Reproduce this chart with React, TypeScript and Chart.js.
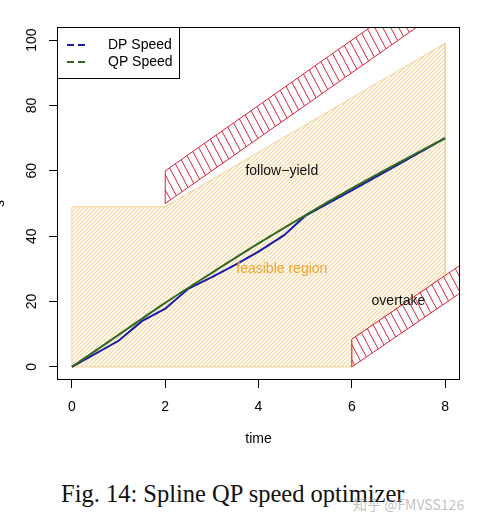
import React, { useEffect, useRef } from 'react';
import { Chart, registerables } from 'chart.js';

Chart.register(...registerables);

// ---- data ----
const qpTime = [0, 1, 2, 3, 4, 5, 6, 7, 8];
const qpSpeed = [0, 9.8, 19.6, 28.8, 37.8, 46.4, 54.6, 62.4, 70];

const dpTime = [0, 1, 1.5, 2, 2.5, 3, 3.5, 4, 4.55, 5, 6, 7, 8];
const dpSpeed = [0, 8, 14, 17.8, 24, 27.5, 31.2, 35.3, 40.3, 46.2, 54, 62, 70];

// polygons (closed)
const feasibleT = [0, 0, 2, 8, 8, 6, 6, 0];
const feasibleS = [0, 49, 49, 99, 28, 8.5, 0, 0];

const followT = [2, 2, 9, 9, 2];
const followS = [50, 60, 130, 120, 50];

const overtakeT = [6, 6, 9, 9, 6];
const overtakeS = [0, 8.5, 37.7, 29.2, 0];

const xTicks = [0, 2, 4, 6, 8];
const yTicks = [0, 20, 40, 60, 80, 100];

const legendLabels = ['DP Speed', 'QP Speed'];
const legendColors = ['#1a1aa8', '#2f6a1e'];

const annotationTexts = ['follow\u2212yield', 'feasible region', 'overtake'];
const annotationT = [4.5, 4.5, 7];
const annotationS = [60, 30, 20];
const annotationColors = ['#111111', '#f0a530', '#111111'];

const pts = (xs: number[], ys: number[]) => xs.map((x, i) => ({ x, y: ys[i] }));

const FONT = "'Liberation Sans', Arial, sans-serif";

// hatch tile: lines through (0,0)-(w,h) ("back" = "\") or (0,h)-(w,0) ("fwd" = "/")
function makeHatch(ctx: CanvasRenderingContext2D, w: number, h: number, color: string, width: number, dir: 'fwd' | 'back') {
  const c = document.createElement('canvas');
  c.width = w;
  c.height = h;
  const g = c.getContext('2d')!;
  g.strokeStyle = color;
  g.lineWidth = width;
  g.beginPath();
  const ex = w / 4;
  const ey = h / 4;
  for (const o of [-w, 0, w]) {
    if (dir === 'fwd') {
      g.moveTo(o - ex, h + ey);
      g.lineTo(o + w + ex, -ey);
    } else {
      g.moveTo(o - ex, -ey);
      g.lineTo(o + w + ex, h + ey);
    }
  }
  g.stroke();
  return ctx.createPattern(c, 'repeat');
}

const framePlugin = {
  id: 'frame',
  afterDraw(chart: any) {
    const { ctx, chartArea: a } = chart;
    ctx.save();
    ctx.strokeStyle = '#000';
    ctx.lineWidth = 1;
    ctx.strokeRect(a.left + 0.5, a.top + 0.5, a.right - a.left - 1, a.bottom - a.top - 1);
    ctx.restore();
  },
};

const annotationPlugin = {
  id: 'annot',
  afterDatasetsDraw(chart: any) {
    const { ctx } = chart;
    const xs = chart.scales.x;
    const ys = chart.scales.y;
    ctx.save();
    ctx.font = `14px ${FONT}`;
    ctx.textAlign = 'center';
    ctx.textBaseline = 'middle';
    annotationTexts.forEach((t, i) => {
      ctx.fillStyle = annotationColors[i];
      ctx.fillText(t, xs.getPixelForValue(annotationT[i]), ys.getPixelForValue(annotationS[i]));
    });
    ctx.restore();
  },
};

const legendPlugin = {
  id: 'rlegend',
  afterDraw(chart: any) {
    const { ctx, chartArea: a } = chart;
    ctx.save();
    const left = a.left;
    const top = a.top;
    ctx.fillStyle = '#fff';
    ctx.fillRect(left + 0.5, top + 0.5, 122, 51);
    ctx.strokeStyle = '#000';
    ctx.lineWidth = 1;
    ctx.strokeRect(left + 0.5, top + 0.5, 122, 51);
    ctx.font = `14px ${FONT}`;
    ctx.textAlign = 'left';
    ctx.textBaseline = 'middle';
    legendLabels.forEach((lab, i) => {
      const y = top + 18 + i * 17;
      ctx.strokeStyle = legendColors[i];
      ctx.lineWidth = 2;
      ctx.setLineDash([7, 4]);
      ctx.beginPath();
      ctx.moveTo(left + 10, y);
      ctx.lineTo(left + 28, y);
      ctx.stroke();
      ctx.setLineDash([]);
      ctx.fillStyle = '#000';
      ctx.fillText(lab, left + 51, y);
    });
    ctx.restore();
  },
};

export default function App() {
  const ref = useRef<HTMLCanvasElement>(null);

  useEffect(() => {
    const canvas = ref.current!;
    const ctx = canvas.getContext('2d')!;
    Chart.defaults.font.family = FONT;
    const orange = makeHatch(ctx, 4, 4, '#f4d49c', 1.2, 'fwd');
    const red = makeHatch(ctx, 8, 15, '#d8253a', 1, 'back');

    const chart = new Chart(canvas, {
      type: 'line',
      data: {
        datasets: [
          {
            label: 'QP Speed',
            data: pts(qpTime, qpSpeed),
            borderColor: legendColors[1],
            borderWidth: 2,
            pointRadius: 0,
            fill: false,
            cubicInterpolationMode: 'monotone',
          },
          {
            label: 'DP Speed',
            data: pts(dpTime, dpSpeed),
            borderColor: legendColors[0],
            borderWidth: 2,
            pointRadius: 0,
            fill: false,
            tension: 0,
          },
          {
            label: 'follow-yield',
            data: pts(followT, followS),
            borderColor: '#d8253a',
            borderWidth: 1,
            backgroundColor: red as any,
            pointRadius: 0,
            fill: 'shape',
            tension: 0,
            clip: 0,
            borderJoinStyle: 'miter',
          },
          {
            label: 'overtake',
            data: pts(overtakeT, overtakeS),
            borderColor: '#d8253a',
            borderWidth: 1,
            backgroundColor: red as any,
            pointRadius: 0,
            fill: 'shape',
            tension: 0,
            clip: 0,
            borderJoinStyle: 'miter',
          },
          {
            label: 'feasible region',
            data: pts(feasibleT, feasibleS),
            borderColor: '#f3d196',
            borderWidth: 1,
            backgroundColor: orange as any,
            pointRadius: 0,
            fill: 'shape',
            tension: 0,
            clip: 0,
            borderJoinStyle: 'miter',
          },
        ] as any,
      },
      options: {
        responsive: false,
        animation: false,
        events: [],
        layout: { padding: { left: 0, top: 27, right: 19, bottom: 0 } },
        plugins: {
          legend: { display: false },
          tooltip: { enabled: false },
        },
        scales: {
          x: {
            type: 'linear',
            min: -0.32,
            max: 8.32,
            afterBuildTicks: (s: any) => {
              s.ticks = xTicks.map((v) => ({ value: v }));
            },
            afterFit: (s: any) => {
              s.height = 80;
            },
            grid: { drawOnChartArea: false, drawTicks: true, tickLength: 8, color: '#000', lineWidth: 1 },
            border: { display: false },
            ticks: { color: '#000', font: { size: 14 }, padding: 11, autoSkip: false, maxRotation: 0 },
            title: { display: true, text: 'time', color: '#000', font: { size: 14 }, padding: { top: 0, bottom: 12 } },
          },
          y: {
            type: 'linear',
            min: -4,
            max: 104,
            afterBuildTicks: (s: any) => {
              s.ticks = yTicks.map((v) => ({ value: v }));
            },
            afterFit: (s: any) => {
              s.width = 57;
            },
            grid: { drawOnChartArea: false, drawTicks: true, tickLength: 8, color: '#000', lineWidth: 1 },
            border: { display: false },
            ticks: {
              color: '#000',
              font: { size: 14 },
              padding: 5,
              autoSkip: false,
              minRotation: 90,
              maxRotation: 90,
              crossAlign: 'center',
            },
            title: { display: true, text: 's', color: '#000', font: { size: 14 }, padding: { top: -8, bottom: 0 } },
          },
        },
      } as any,
      plugins: [annotationPlugin, framePlugin, legendPlugin],
    });
    return () => chart.destroy();
  }, []);

  return (
    <div style={{ position: 'absolute', left: 0, top: 0, width: 479, height: 527, background: '#fff', overflow: 'hidden' }}>
      <canvas ref={ref} width={479} height={460} style={{ position: 'absolute', left: 0, top: 0, width: 479, height: 460 }} />
      <div
        style={{
          position: 'absolute',
          left: 61,
          top: 482,
          fontFamily: "'Liberation Serif', 'Times New Roman', serif",
          fontSize: 24.5,
          lineHeight: 1,
          color: '#111',
          whiteSpace: 'nowrap',
        }}
      >
        Fig. 14: Spline QP speed optimizer
      </div>
      <div
        style={{
          position: 'absolute',
          left: 353,
          top: 497,
          fontFamily: "'Noto Sans CJK SC', 'Noto Sans', sans-serif",
          fontSize: 14,
          lineHeight: 1,
          color: 'rgba(150,150,150,0.6)',
          whiteSpace: 'nowrap',
        }}
      >
        知乎 @FMVSS126
      </div>
    </div>
  );
}
